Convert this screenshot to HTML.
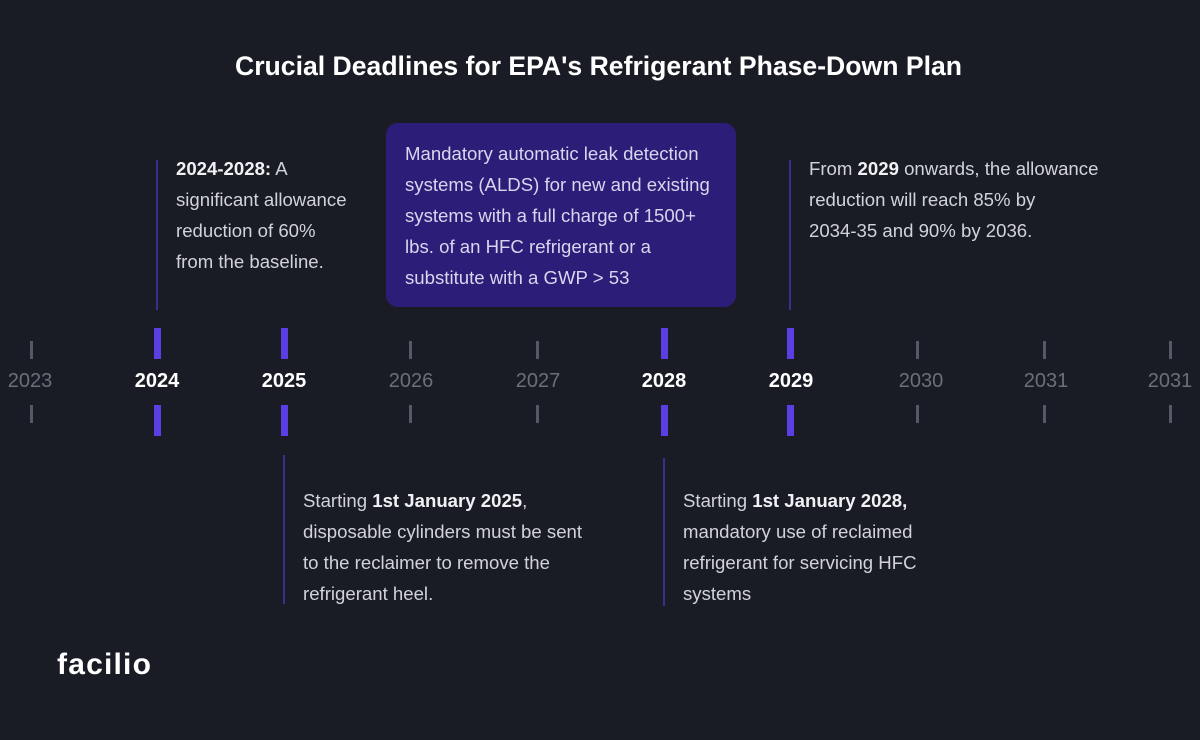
<!DOCTYPE html>
<html>
<head>
<meta charset="utf-8">
<style>
  html,body{margin:0;padding:0;}
  body{width:1200px;height:740px;background:#1a1c25;position:relative;overflow:hidden;font-family:"Liberation Sans",sans-serif;}
  .title{position:absolute;left:0;width:1197px;top:49px;text-align:center;color:#ffffff;font-weight:bold;font-size:26.6px;line-height:34px;}
  .txt{position:absolute;color:#d2d3da;font-size:18.6px;line-height:31px;}
  .txt b{color:#f1f1f5;}
  .vl{position:absolute;width:2px;background:#3b2f8c;}
  .box{position:absolute;left:386px;top:123px;width:350px;height:184px;background:#2c1e78;border-radius:12px;}
  .tk{position:absolute;}
  .g{width:3px;background:#565863;height:18px;}
  .p{width:7px;background:#5b3fe4;height:31px;}
  .yr{position:absolute;top:369px;width:100px;text-align:center;font-size:20px;line-height:24px;color:#6c6e78;}
  .yr.on{color:#ffffff;font-weight:bold;}
  .logo{position:absolute;left:57px;top:647px;color:#fff;font-weight:bold;font-size:30px;line-height:36px;letter-spacing:1.2px;}
</style>
</head>
<body>
<div class="title">Crucial Deadlines for EPA's Refrigerant Phase-Down Plan</div>

<div class="box"></div>
<div class="txt" style="left:405px;top:138px;width:330px;color:#d8d6ee;">Mandatory automatic leak detection<br>systems (ALDS) for new and existing<br>systems with a full charge of 1500+<br>lbs. of an HFC refrigerant or a<br>substitute with a GWP &gt; 53</div>

<div class="vl" style="left:156px;top:160px;height:150px;"></div>
<div class="txt" style="left:176px;top:153px;"><b>2024-2028:</b> A<br>significant allowance<br>reduction of 60%<br>from the baseline.</div>

<div class="vl" style="left:789px;top:160px;height:150px;"></div>
<div class="txt" style="left:809px;top:153px;">From <b>2029</b> onwards, the allowance<br>reduction will reach 85% by<br>2034-35 and 90% by 2036.</div>

<div class="vl" style="left:283px;top:455px;height:149px;"></div>
<div class="txt" style="left:303px;top:485px;">Starting <b>1st January 2025</b>,<br>disposable cylinders must be sent<br>to the reclaimer to remove the<br>refrigerant heel.</div>

<div class="vl" style="left:663px;top:458px;height:148px;"></div>
<div class="txt" style="left:683px;top:485px;">Starting <b>1st January 2028,</b><br>mandatory use of reclaimed<br>refrigerant for servicing HFC<br>systems</div>

<!-- ticks -->
<div class="tk g" style="left:30px;top:341px;"></div><div class="tk g" style="left:30px;top:405px;"></div>
<div class="tk p" style="left:154px;top:328px;"></div><div class="tk p" style="left:154px;top:405px;"></div>
<div class="tk p" style="left:281px;top:328px;"></div><div class="tk p" style="left:281px;top:405px;"></div>
<div class="tk g" style="left:409px;top:341px;"></div><div class="tk g" style="left:409px;top:405px;"></div>
<div class="tk g" style="left:536px;top:341px;"></div><div class="tk g" style="left:536px;top:405px;"></div>
<div class="tk p" style="left:661px;top:328px;"></div><div class="tk p" style="left:661px;top:405px;"></div>
<div class="tk p" style="left:787px;top:328px;"></div><div class="tk p" style="left:787px;top:405px;"></div>
<div class="tk g" style="left:916px;top:341px;"></div><div class="tk g" style="left:916px;top:405px;"></div>
<div class="tk g" style="left:1043px;top:341px;"></div><div class="tk g" style="left:1043px;top:405px;"></div>
<div class="tk g" style="left:1169px;top:341px;"></div><div class="tk g" style="left:1169px;top:405px;"></div>

<div class="yr" style="left:-20px;">2023</div>
<div class="yr on" style="left:107px;">2024</div>
<div class="yr on" style="left:234px;">2025</div>
<div class="yr" style="left:361px;">2026</div>
<div class="yr" style="left:488px;">2027</div>
<div class="yr on" style="left:614px;">2028</div>
<div class="yr on" style="left:741px;">2029</div>
<div class="yr" style="left:871px;">2030</div>
<div class="yr" style="left:996px;">2031</div>
<div class="yr" style="left:1120px;">2031</div>

<div class="logo">facilio</div>
</body>
</html>
